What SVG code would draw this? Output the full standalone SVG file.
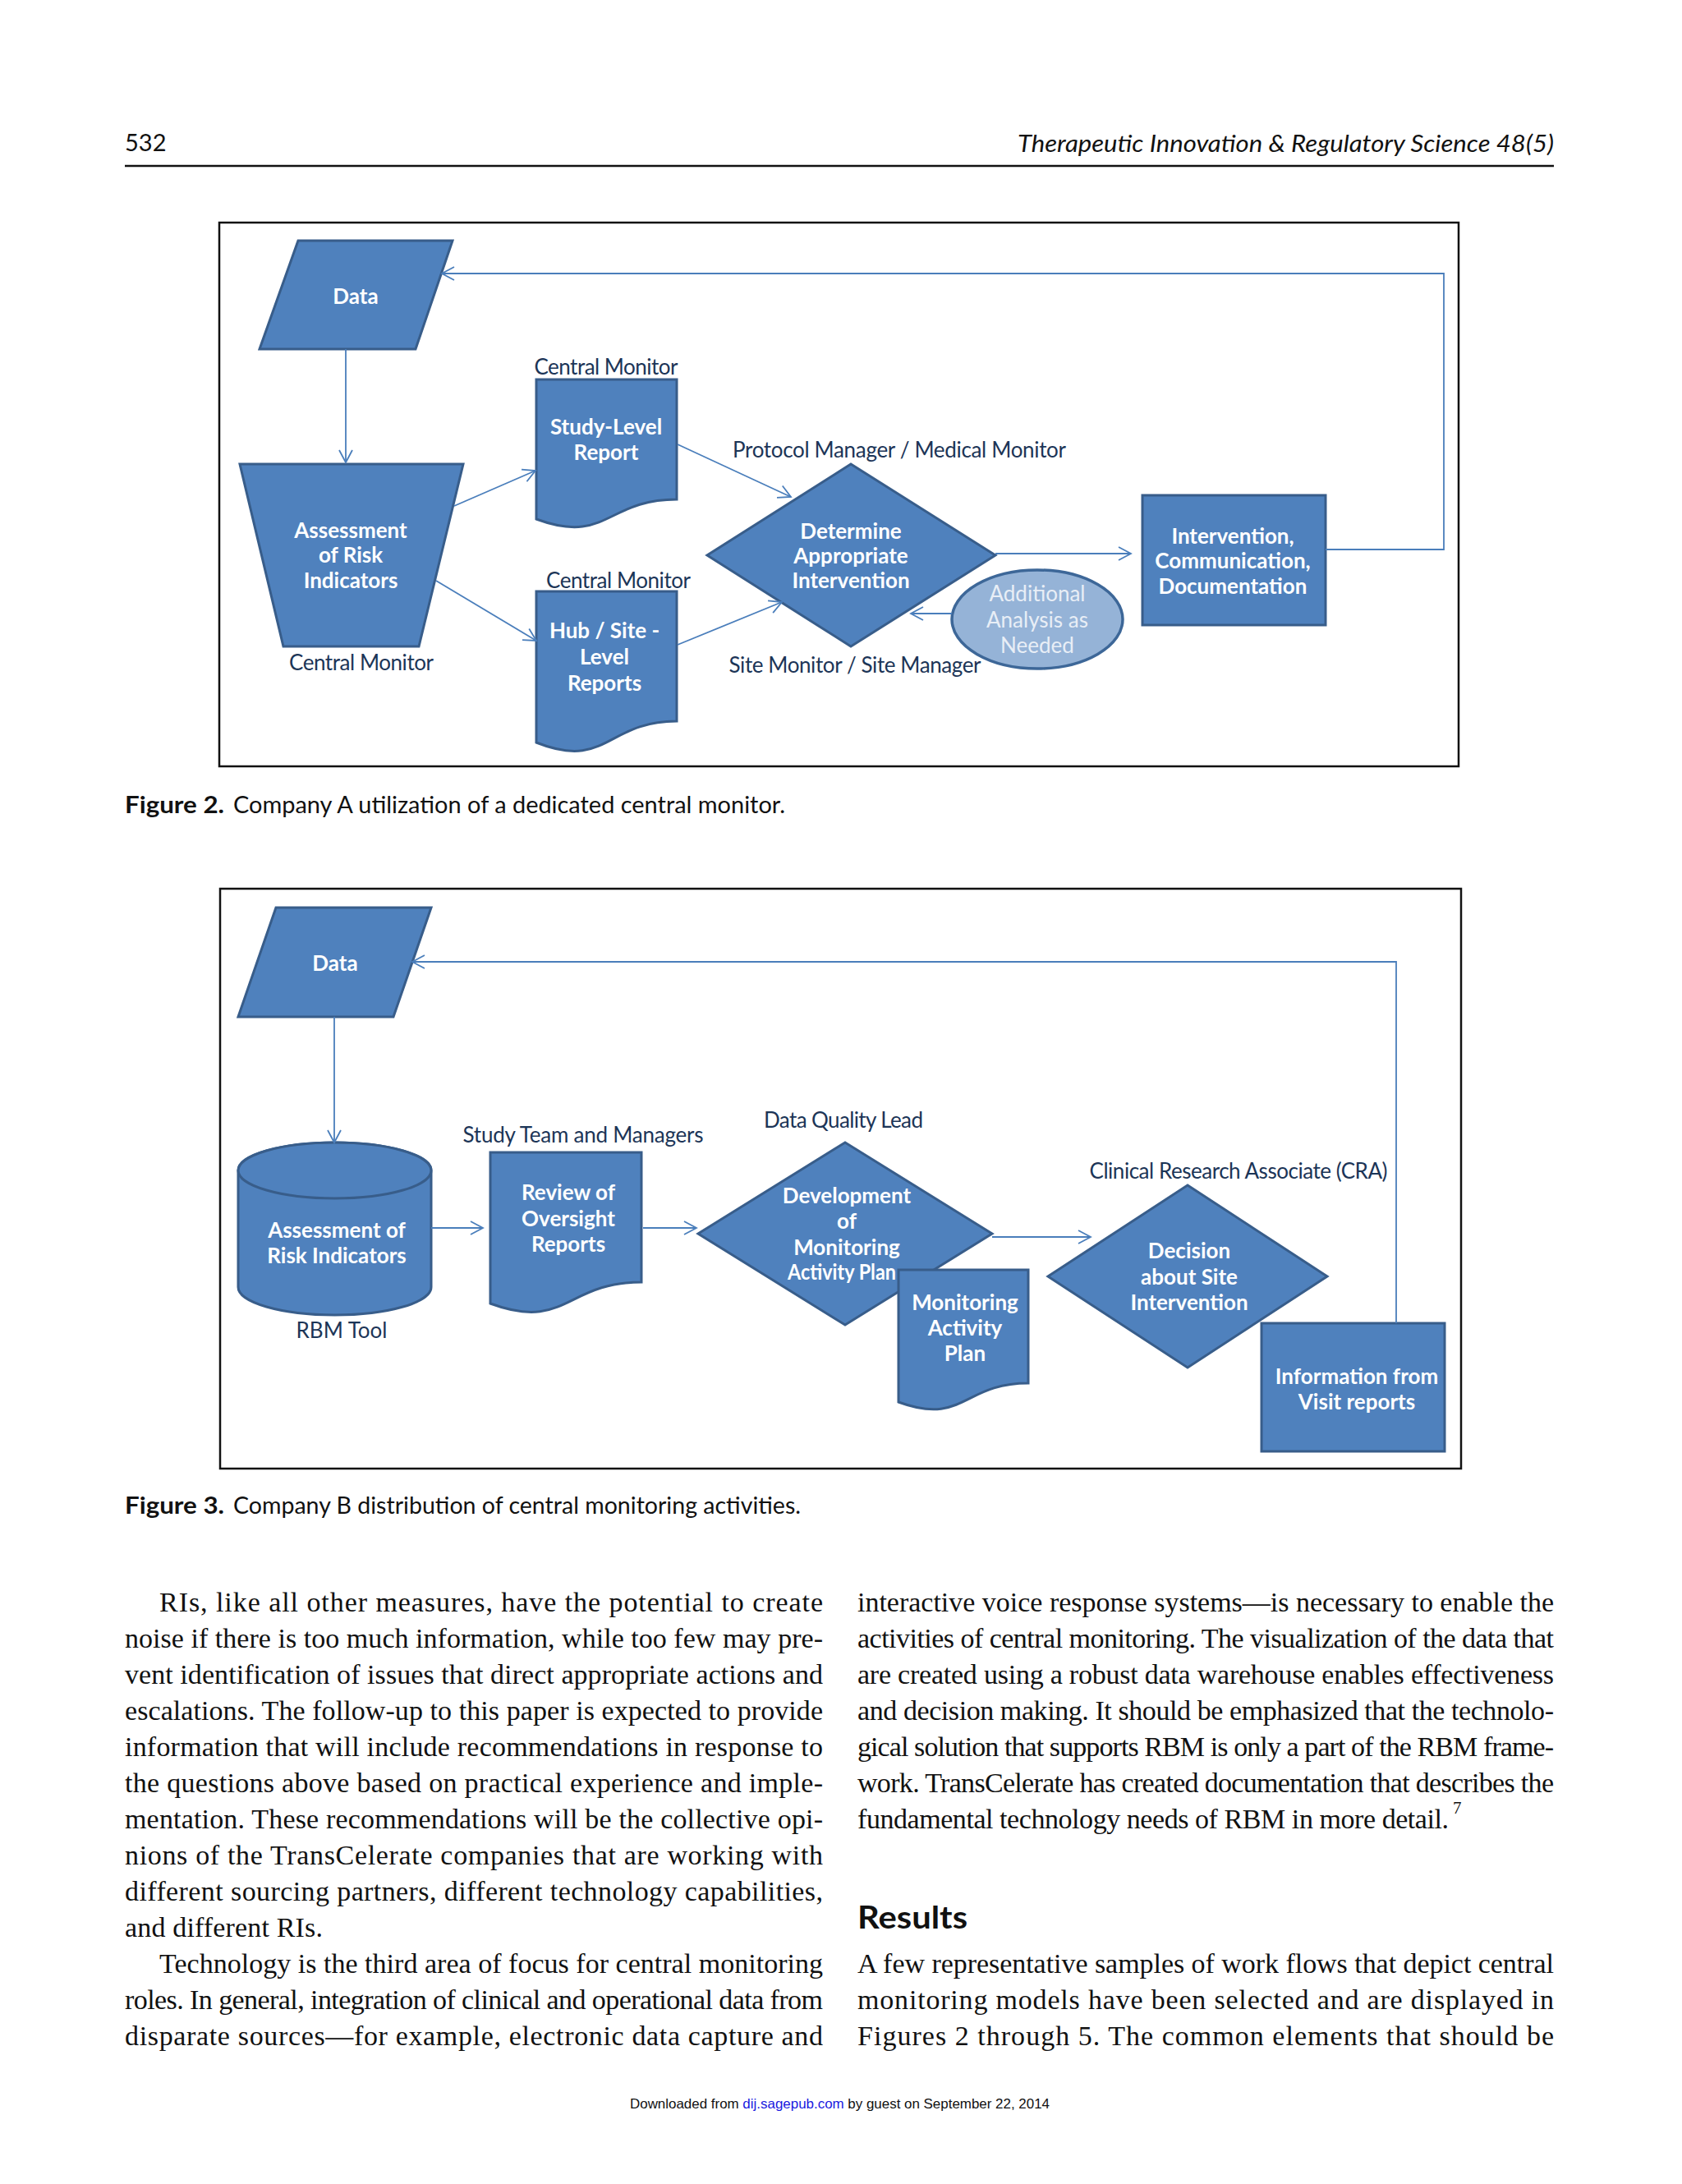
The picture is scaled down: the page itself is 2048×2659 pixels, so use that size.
<svg xmlns="http://www.w3.org/2000/svg" width="2048" height="2659" viewBox="0 0 2048 2659">
<defs>
<style>
.node{fill:#4f81bd;stroke:#385d8a;stroke-width:3;stroke-linejoin:miter}
.light{fill:#95b3d7;stroke:#3d6798;stroke-width:3.5}
.frame{fill:none;stroke:#111;stroke-width:2.5}
.conn{fill:none;stroke:#4a7ebb;stroke-width:1.8}
.nt{font-family:Lato,"Liberation Sans",sans-serif;font-weight:bold;font-size:26px;fill:#fff;text-anchor:middle}
.lt{font-family:Lato,"Liberation Sans",sans-serif;font-size:26px;fill:#e8eef6;text-anchor:middle}
.lab{font-family:Lato,"Liberation Sans",sans-serif;font-size:26px;fill:#1c3557;text-anchor:middle}
.body{font-family:"Liberation Serif","Times New Roman",serif;font-size:34px;fill:#111}
.hdr{font-family:Lato,"Liberation Sans",sans-serif;font-size:29px;fill:#111}
.cap{font-family:Lato,"Liberation Sans",sans-serif;font-size:29px;fill:#111}
.foot{font-family:"Liberation Sans",Arial,sans-serif;font-size:16.5px;fill:#111}
</style>
<marker id="arr" markerUnits="userSpaceOnUse" markerWidth="20" markerHeight="20" viewBox="-17 -10 20 20" refX="0" refY="0" orient="auto">
<path d="M-15,-8 L0,0 L-15,8" fill="none" stroke="#4a7ebb" stroke-width="1.8"/>
</marker>
</defs>
<rect width="2048" height="2659" fill="#fff"/>

<g id="header">
<text class="hdr" x="152" y="184">532</text>
<text class="hdr" x="1239" y="185" font-style="italic" textLength="653" lengthAdjust="spacingAndGlyphs">Therapeutic Innovation &amp; Regulatory Science 48(5)</text>
<line x1="152" y1="202" x2="1892" y2="202" stroke="#111" stroke-width="2.5"/>
</g>

<!-- Figure 2 -->
<g id="figure2">
<rect class="frame" x="267" y="271" width="1509" height="662"/>
<g id="f2-data"><polygon class="node" points="363,293 551,293 506,425 316,425"/><text class="nt" x="433" y="370">Data</text></g>
<g id="f2-assessment"><polygon class="node" points="292,565 564,565 510,787 345,787"/>
<text class="nt" x="427" y="655">Assessment</text><text class="nt" x="427" y="685">of Risk</text><text class="nt" x="427" y="716">Indicators</text></g>
<g id="f2-study"><path class="node" d="M653,462 H824 V608 C738.5,608 738.5,663.5 653,632 Z"/>
<text class="nt" x="738" y="529">Study-Level</text><text class="nt" x="738" y="560">Report</text></g>
<g id="f2-hub"><path class="node" d="M653,720 H824 V878 C738.5,878 738.5,938 653,904 Z"/>
<text class="nt" x="736" y="777">Hub / Site -</text><text class="nt" x="736" y="809">Level</text><text class="nt" x="736" y="841">Reports</text></g>
<g id="f2-determine"><polygon class="node" points="1036,565 1212,676 1036,787 861,676"/>
<text class="nt" x="1036" y="656">Determine</text><text class="nt" x="1036" y="686">Appropriate</text><text class="nt" x="1036" y="716">Intervention</text></g>
<g id="f2-additional"><ellipse class="light" cx="1263" cy="754" rx="104" ry="60"/>
<text class="lt" x="1263" y="732">Additional</text><text class="lt" x="1263" y="764">Analysis as</text><text class="lt" x="1263" y="795">Needed</text></g>
<g id="f2-intervention"><rect class="node" x="1391" y="603" width="223" height="158"/>
<text class="nt" x="1501" y="662">Intervention,</text><text class="nt" x="1501" y="692">Communication,</text><text class="nt" x="1501" y="723">Documentation</text></g>
<g id="f2-labels">
<text class="lab" x="440" y="816" textLength="176">Central Monitor</text>
<text class="lab" x="738" y="456" textLength="175">Central Monitor</text>
<text class="lab" x="753" y="716" textLength="176">Central Monitor</text>
<text class="lab" x="1095" y="557" textLength="406">Protocol Manager / Medical Monitor</text>
<text class="lab" x="1041" y="819" textLength="307">Site Monitor / Site Manager</text>
</g>
<g id="f2-connectors">
<path class="conn" d="M421,425 V563" marker-end="url(#arr)"/>
<path class="conn" d="M553,616 L652,573" marker-end="url(#arr)"/>
<path class="conn" d="M531,707 L653,780" marker-end="url(#arr)"/>
<path class="conn" d="M825,541 L963,605" marker-end="url(#arr)"/>
<path class="conn" d="M825,785 L952,733" marker-end="url(#arr)"/>
<path class="conn" d="M1212,674 H1377" marker-end="url(#arr)"/>
<path class="conn" d="M1159,747 H1109" marker-end="url(#arr)"/>
<path class="conn" d="M1614,669 H1758 V333 H538" marker-end="url(#arr)"/>
</g>
</g>
<g id="caption2">
<text class="cap" x="152" y="990" font-weight="bold" textLength="121" lengthAdjust="spacingAndGlyphs">Figure 2.</text>
<text class="cap" x="284" y="990" textLength="672" lengthAdjust="spacingAndGlyphs">Company A utilization of a dedicated central monitor.</text>
</g>

<!-- Figure 3 -->
<g id="figure3">
<rect class="frame" x="268" y="1082" width="1511" height="706"/>
<g id="f3-data"><polygon class="node" points="336,1105 525,1105 479,1238 290,1238"/><text class="nt" x="408" y="1182">Data</text></g>
<g id="f3-assessment"><path class="node" d="M290,1425 A117.5,34 0 0 1 525,1425 V1567 A117.5,34 0 0 1 290,1567 Z"/>
<ellipse class="node" cx="407.5" cy="1425" rx="117.5" ry="34"/>
<text class="nt" x="410" y="1507">Assessment of</text><text class="nt" x="410" y="1538">Risk Indicators</text></g>
<g id="f3-review"><path class="node" d="M597,1403 H781 V1561 C689,1561 689,1621 597,1587 Z"/>
<text class="nt" x="692" y="1461">Review of</text><text class="nt" x="692" y="1493">Oversight</text><text class="nt" x="692" y="1524">Reports</text></g>
<g id="f3-development"><polygon class="node" points="1029,1391 1208,1502 1029,1613 850,1502"/>
<text class="nt" x="1031" y="1465">Development</text><text class="nt" x="1031" y="1496">of</text><text class="nt" x="1031" y="1528">Monitoring</text><text class="nt" x="1025" y="1558" textLength="132" lengthAdjust="spacingAndGlyphs">Activity Plan</text></g>
<g id="f3-map"><path class="node" d="M1094,1546 H1252 V1684 C1173,1684 1173,1736 1094,1707 Z"/>
<text class="nt" x="1175" y="1595">Monitoring</text><text class="nt" x="1175" y="1626">Activity</text><text class="nt" x="1175" y="1657">Plan</text></g>
<g id="f3-decision"><polygon class="node" points="1446,1443 1616,1554 1446,1665 1276,1554"/>
<text class="nt" x="1448" y="1532">Decision</text><text class="nt" x="1448" y="1564">about Site</text><text class="nt" x="1448" y="1595">Intervention</text></g>
<g id="f3-info"><rect class="node" x="1536" y="1611" width="223" height="156"/>
<text class="nt" x="1652" y="1685">Information from</text><text class="nt" x="1652" y="1716">Visit reports</text></g>
<g id="f3-labels">
<text class="lab" x="416" y="1629">RBM Tool</text>
<text class="lab" x="710" y="1391" textLength="293">Study Team and Managers</text>
<text class="lab" x="1027" y="1373" textLength="194">Data Quality Lead</text>
<text class="lab" x="1508" y="1435" textLength="363">Clinical Research Associate (CRA)</text>
</g>
<g id="f3-connectors">
<path class="conn" d="M407,1238 V1391" marker-end="url(#arr)"/>
<path class="conn" d="M525,1495 H588" marker-end="url(#arr)"/>
<path class="conn" d="M783,1495 H848" marker-end="url(#arr)"/>
<path class="conn" d="M1208,1506 H1328" marker-end="url(#arr)"/>
<path class="conn" d="M1700,1611 V1171 H502" marker-end="url(#arr)"/>
</g>
</g>
<g id="caption3">
<text class="cap" x="152" y="1843" font-weight="bold" textLength="121" lengthAdjust="spacingAndGlyphs">Figure 3.</text>
<text class="cap" x="284" y="1843" textLength="691" lengthAdjust="spacingAndGlyphs">Company B distribution of central monitoring activities.</text>
</g>

<g id="body-left" class="body">
<text x="194" y="1962" textLength="808">RIs, like all other measures, have the potential to create</text>
<text x="152" y="2006" textLength="850">noise if there is too much information, while too few may pre-</text>
<text x="152" y="2050" textLength="850">vent identification of issues that direct appropriate actions and</text>
<text x="152" y="2094" textLength="850">escalations. The follow-up to this paper is expected to provide</text>
<text x="152" y="2138" textLength="850">information that will include recommendations in response to</text>
<text x="152" y="2182" textLength="850">the questions above based on practical experience and imple-</text>
<text x="152" y="2226" textLength="850">mentation. These recommendations will be the collective opi-</text>
<text x="152" y="2270" textLength="850">nions of the TransCelerate companies that are working with</text>
<text x="152" y="2314" textLength="850">different sourcing partners, different technology capabilities,</text>
<text x="152" y="2358" textLength="241">and different RIs.</text>
<text x="194" y="2402" textLength="808">Technology is the third area of focus for central monitoring</text>
<text x="152" y="2446" textLength="850">roles. In general, integration of clinical and operational data from</text>
<text x="152" y="2490" textLength="850">disparate sources—for example, electronic data capture and</text>
</g>
<g id="body-right" class="body">
<text x="1044" y="1962" textLength="848">interactive voice response systems—is necessary to enable the</text>
<text x="1044" y="2006" textLength="848">activities of central monitoring. The visualization of the data that</text>
<text x="1044" y="2050" textLength="848">are created using a robust data warehouse enables effectiveness</text>
<text x="1044" y="2094" textLength="848">and decision making. It should be emphasized that the technolo-</text>
<text x="1044" y="2138" textLength="848">gical solution that supports RBM is only a part of the RBM frame-</text>
<text x="1044" y="2182" textLength="848">work. TransCelerate has created documentation that describes the</text>
<text x="1044" y="2226" textLength="720">fundamental technology needs of RBM in more detail.</text>
<text x="1769" y="2208" font-size="21">7</text>
<text x="1044" y="2348" font-family="Lato,'Liberation Sans',sans-serif" font-weight="bold" font-size="38" textLength="134" lengthAdjust="spacingAndGlyphs">Results</text>
<text x="1044" y="2402" textLength="848">A few representative samples of work flows that depict central</text>
<text x="1044" y="2446" textLength="848">monitoring models have been selected and are displayed in</text>
<text x="1044" y="2490" textLength="848">Figures 2 through 5. The common elements that should be</text>
</g>
<g id="footer">
<text class="foot" x="767" y="2567" textLength="511" lengthAdjust="spacingAndGlyphs">Downloaded from <tspan fill="#1a1adf">dij.sagepub.com</tspan> by guest on September 22, 2014</text>
</g>
</svg>
